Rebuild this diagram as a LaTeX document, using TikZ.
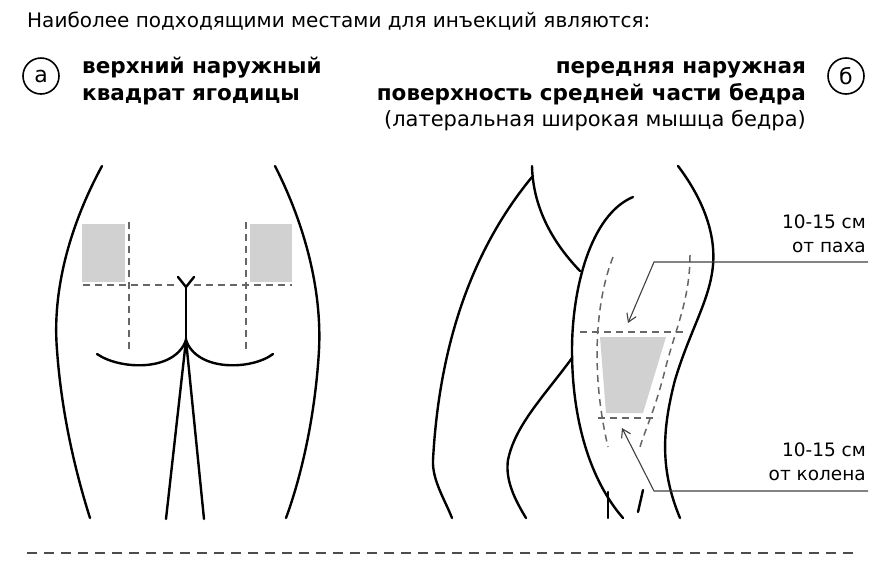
\documentclass[tikz,border=0pt]{standalone}
\usepackage{fontspec}
\setmainfont{DejaVu Sans}
\usetikzlibrary{arrows.meta}
\begin{document}
\begin{tikzpicture}[x=1pt,y=-1pt,
  body/.style={line width=2.4pt,line cap=round},
  guide/.style={draw=black!60,line width=1.5pt,dash pattern=on 7pt off 5pt},
  zone/.style={fill=black!18,draw=none},
  lead/.style={draw=black!75,line width=1.1pt,-{Straight Barb[length=8pt,width=10pt]}},
  txt/.style={inner sep=0pt,font=\fontsize{20}{24}\selectfont},
  ptxt/.style={inner sep=0pt,font=\fontsize{21}{25}\selectfont},
  btxt/.style={inner sep=0pt,font=\fontsize{21.5}{25}\selectfont\bfseries},
  lbl/.style={inner sep=0pt,font=\fontsize{18.5}{22}\selectfont,align=right},
  circ/.style={circle,draw,line width=1.6pt,minimum size=36pt,inner sep=0pt,font=\fontsize{22}{26}\selectfont}]
\useasboundingbox (0,0) rectangle (885,571);
% header
\node[txt,anchor=base west] (hdr) at (27,27) {Наиболее подходящими местами для инъекций являются:};
\node[circ] (ca) at (41,76) {а};
\node[circ] (cb) at (846,76) {б};
\node[btxt,anchor=base west] (a1) at (82,73) {верхний наружный};
\node[btxt,anchor=base west] (a2) at (82,100) {квадрат ягодицы};
\node[btxt,anchor=base east] (b1) at (806,73) {передняя наружная};
\node[btxt,anchor=base east] (b2) at (806,100) {поверхность средней части бедра};
\node[ptxt,anchor=base east] (b3) at (806,126) {(латеральная широкая мышца бедра)};
% buttocks
\fill[zone] (82,224) rectangle (125,282);
\fill[zone] (250,224) rectangle (292,282);
\draw[guide] (83,285) -- (178,285) (194,285) -- (292,285);
\draw[guide] (129,222) -- (129,350) (246,222) -- (246,350);
\draw[body] (102,166) .. controls (70,225) and (52,290) .. (57,350) .. controls (62,420) and (78,480) .. (90,518);
\draw[body] (275,166) .. controls (305,225) and (322,290) .. (319,350) .. controls (315,420) and (300,480) .. (286,518);
\draw[body] (178,277) -- (186,287) -- (194,277);
\draw[body] (186,287) -- (186,340);
\draw[body] (97,354) .. controls (120,370) and (175,372) .. (186,340) .. controls (197,372) and (252,370) .. (273,354);
\draw[body] (166,519) -- (186,340) -- (204,519);
% thigh
\draw[body] (532,177) .. controls (480,240) and (440,330) .. (433,460) .. controls (432,480) and (445,500) .. (452,518);
\draw[body] (532,166) .. controls (533,210) and (555,245) .. (580,271);
\draw[body] (633,197) .. controls (590,215) and (572,290) .. (572,350) .. controls (572,420) and (590,480) .. (623,518);
\draw[body] (572,358) .. controls (545,395) and (515,425) .. (508,460) .. controls (505,480) and (515,500) .. (526,518);
\draw[body] (678,166) .. controls (700,195) and (716,230) .. (713,265) .. controls (710,300) and (690,330) .. (675,380) .. controls (662,430) and (660,470) .. (680,518);
\draw[body] (608,492) -- (608,518);
\draw[body] (643,490) -- (638,512);
\fill[zone] (600,337) -- (666,337) -- (643,413) -- (606,413) -- cycle;
\draw[guide] (613,257) .. controls (596,300) and (590,370) .. (608,447);
\draw[guide] (690,255) .. controls (690,300) and (675,330) .. (665,370) .. controls (655,410) and (645,430) .. (640,447);
\draw[guide] (580,332) -- (685,332);
\draw[guide] (598,418) -- (658,418);
\node[lbl,anchor=base east] (l1) at (866,228) {10-15 см};
\node[lbl,anchor=base east] (l2) at (866,252) {от паха};
\node[lbl,anchor=base east] (l3) at (866,456) {10-15 см};
\node[lbl,anchor=base east] (l4) at (866,480) {от колена};
\coordinate (t1) at (868,262);
\coordinate (t2) at (868,491);
\coordinate (p1) at (628,323);
\coordinate (p2) at (622,428);
\draw[lead] (t1) -- (654,262) -- (p1);
\draw[lead] (t2) -- (654,491) -- (p2);
% bottom dashed line
\draw[draw=black!70,line width=1.5pt,dash pattern=on 10pt off 7pt] (27,553) -- (858,553);
\end{tikzpicture}
\end{document}
